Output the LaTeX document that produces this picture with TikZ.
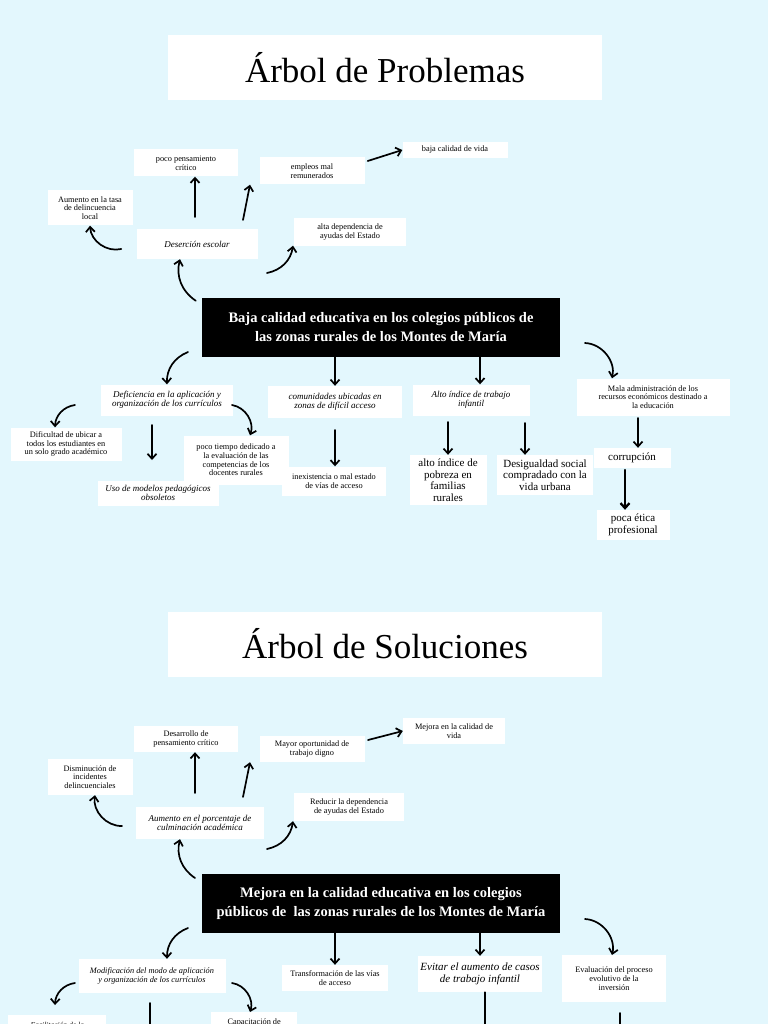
\documentclass[tikz,border=0pt]{standalone}
\usepackage{fontspec}
\setmainfont{Liberation Serif}
\usetikzlibrary{arrows.meta}
\definecolor{bg}{HTML}{E3F7FD}
\tikzset{
 box/.style={fill=white, align=center, inner sep=2pt, font=\fontsize{8.3}{8.6}\selectfont},
 ibox/.style={box, font=\fontsize{9}{9.3}\selectfont\itshape},
 bbox/.style={box, font=\fontsize{11}{11.5}\selectfont},
 title/.style={fill=white, minimum width=434pt, minimum height=65pt, font=\fontsize{35}{36}\selectfont},
 mainbox/.style={fill=black, text=white, minimum width=358pt, minimum height=59pt, align=center, font=\fontsize{14.5}{19}\selectfont\bfseries},
 arr/.style={-{Straight Barb[length=5pt,width=9pt]}, line width=1.7pt, line cap=round},
}
\begin{document}
\begin{tikzpicture}[x=1pt,y=-1pt]
\fill[bg] (0,0) rectangle (768,1024);
\clip (0,0) rectangle (768,1024);
\useasboundingbox (0,0) rectangle (768,1024);
% ---------- Problemas ----------
\node[title] (t1) at (385,68) {Árbol de Problemas};
\node[mainbox] (m1) at (381,327.5) {Baja calidad educativa en los colegios públicos de\\las zonas rurales de los Montes de María};
\node[box, minimum width=104pt, minimum height=27pt] (p1) at (186,163) {poco pensamiento\\crítico};
\node[box, minimum width=105pt, minimum height=27pt] (p2) at (312,171) {empleos mal\\remunerados};
\node[box, minimum width=105pt, minimum height=16pt] (p3) at (455,150) {baja calidad de vida};
\node[box, minimum width=85pt, minimum height=35pt] (p4) at (90,208) {Aumento en la tasa\\de delincuencia\\local};
\node[ibox, minimum width=121pt, minimum height=30pt] (p5) at (197,244) {Deserción escolar};
\node[box, minimum width=112pt, minimum height=27pt] (p6) at (350,232) {alta dependencia de\\ayudas del Estado};
\node[ibox, minimum width=132pt, minimum height=31pt] (p7) at (167,400) {Deficiencia en la aplicación y\\organización de los currículos};
\node[ibox, minimum width=134pt, minimum height=32pt] (p8) at (335,402) {comunidades ubicadas en\\zonas de difícil acceso};
\node[ibox, minimum width=117pt, minimum height=31pt] (p9) at (471,400) {Alto índice de trabajo\\infantil};
\node[box, minimum width=153pt, minimum height=37pt] (p10) at (653,397) {Mala administración de los\\recursos económicos destinado a\\la educación};
\node[box, minimum width=111pt, minimum height=33pt] (p11) at (66,444) {Dificultad de ubicar a\\todos los estudiantes en\\un solo grado académico};
\node[box, minimum width=105pt, minimum height=49pt] (p12) at (236,460) {poco tiempo dedicado a\\la evaluación de las\\competencias de los\\docentes rurales};
\node[ibox, minimum width=121pt, minimum height=25pt] (p13) at (158,493) {Uso de modelos pedagógicos\\obsoletos};
\node[box, minimum width=104pt, minimum height=29pt] (p14) at (334,481) {inexistencia o mal estado\\de vías de acceso};
\node[bbox, minimum width=77pt, minimum height=50pt] (p15) at (448,480) {alto índice de\\pobreza en\\familias\\rurales};
\node[bbox, minimum width=96pt, minimum height=40pt] (p16) at (545,475) {Desigualdad social\\compradado con la\\vida urbana};
\node[bbox, minimum width=77pt, minimum height=20pt] (p17) at (632,458) {corrupción};
\node[bbox, minimum width=73pt, minimum height=30pt] (p18) at (633,525) {poca ética\\profesional};
\draw[arr] (m1.north west)++(-6,3) to[bend left=35] (p5.south west -| 180,265);
\draw[arr] (p5.west)++(-15,5) to[bend left=50] (p4.south);
\draw[arr] (195,217) -- (p1.south -| 195,185);
\draw[arr] (243,220) -- (p2.south west -| 250,188);
\draw[arr] (p2.east)++(3,-10) -- (p3.west);
\draw[arr] (267,273) to[bend right=35] (p6.south west -| 293,252);
\draw[arr] (188,352) to[bend right=35] (p7.north);
\draw[arr] (m1.south -| 335,357) -- (p8.north);
\draw[arr] (m1.south -| 480,357) -- (p9.north -| 480,385);
\draw[arr] (585,343) to[bend left=50] (p10.north -| 612,378);
\draw[arr] (75,405) to[bend right=40] (p11.north -| 55,427);
\draw[arr] (152,425) -- (152,460);
\draw[arr] (232,405) to[bend left=50] (p12.north -| 250,434);
\draw[arr] (335,430) -- (p14.north -| 335,466);
\draw[arr] (448,422) -- (p15.north);
\draw[arr] (525,423) -- (p16.north -| 525,453);
\draw[arr] (638,418) -- (p17.north -| 638,448);
\draw[arr, line width=2.3pt] (625,470) -- (p18.north -| 625,505);
% ---------- Soluciones ----------
\node[title] (t2) at (385,644) {Árbol de Soluciones};
\node[mainbox] (m2) at (381,903.5) {Mejora en la calidad educativa en los colegios\\públicos de \ las zonas rurales de los Montes de María};
\node[box, minimum width=104pt, minimum height=26pt] (s1) at (186,739) {Desarrollo de\\pensamiento crítico};
\node[box, minimum width=105pt, minimum height=26pt] (s2) at (312,749) {Mayor oportunidad de\\trabajo digno};
\node[box, minimum width=102pt, minimum height=26pt] (s3) at (454,731) {Mejora en la calidad de\\vida};
\node[box, minimum width=85pt, minimum height=36pt] (s4) at (90,777) {Disminución de\\incidentes\\delincuenciales};
\node[ibox, minimum width=128pt, minimum height=32pt] (s5) at (200,823) {Aumento en el porcentaje de\\culminación académica};
\node[box, minimum width=110pt, minimum height=28pt] (s6) at (349,807) {Reducir la dependencia\\de ayudas del Estado};
\node[ibox, minimum width=147pt, minimum height=34pt, font=\fontsize{8.3}{8.6}\selectfont\itshape] (s7) at (152,976) {Modificación del modo de aplicación\\y organización de los currículos};
\node[box, minimum width=106pt, minimum height=26pt] (s8) at (335,978) {Transformación de las vías\\de acceso};
\node[ibox, minimum width=122pt, minimum height=36pt, font=\fontsize{11}{11.5}\selectfont\itshape] (s9) at (480,974) {Evitar el aumento de casos\\de trabajo infantil};
\node[box, minimum width=104pt, minimum height=47pt, anchor=north] (s10) at (614,955) {Evaluación del proceso\\evolutivo de la\\inversión};
\node[ibox, minimum width=98pt, minimum height=20pt, anchor=north west, font=\fontsize{7.5}{8}\selectfont\itshape] (s11) at (8,1015) {Facilitación de la};
\node[box, minimum width=86pt, minimum height=20pt, anchor=north west] (s12) at (211,1012) {Capacitación de};
\draw[arr] (195,878) to[bend left=35] (s5.south -| 180,842);
\draw[arr] (122,826) to[bend left=50] (s4.south -| 95,800);
\draw[arr] (195,793) -- (s1.south -| 195,762);
\draw[arr] (243,797) -- (s2.south west -| 250,766);
\draw[arr] (368,740) -- (s3.west);
\draw[arr] (267,849) to[bend right=35] (s6.south west -| 293,827);
\draw[arr] (188,928) to[bend right=35] (s7.north -| 167,962);
\draw[arr] (m2.south -| 335,933) -- (s8.north -| 335,961);
\draw[arr] (m2.south -| 480,933) -- (s9.north -| 480,954);
\draw[arr] (585,919) to[bend left=50] (s10.north -| 612,953);
\draw[arr] (75,983) to[bend right=40] (55,1005);
\draw[arr] (150,1003) -- (150,1040);
\draw[arr] (232,983) to[bend left=50] (s12.north -| 250,1008);
\draw[arr] (s9.south -| 485,1004) -- (485,1035);
\draw[arr] (620,1013) -- (620,1040);
\end{tikzpicture}
\end{document}
